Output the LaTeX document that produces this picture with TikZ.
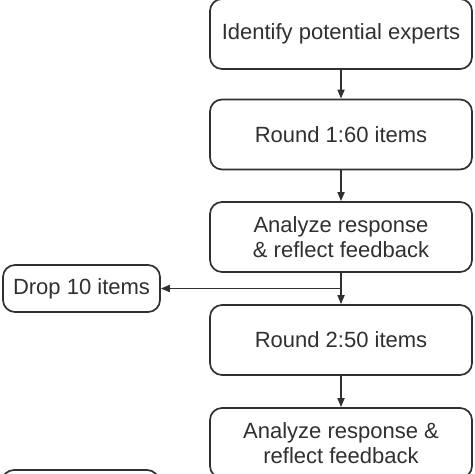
\documentclass[tikz,border=0pt]{standalone}
\usepackage{fontspec}
\setmainfont{Liberation Sans}
\usetikzlibrary{arrows.meta}
\definecolor{linegray}{HTML}{303030}
\begin{document}
\begin{tikzpicture}[x=0.5pt, y=0.5pt, line join=round, >={Triangle[length=4.5pt, width=3.5pt]},
	font=\fontsize{11}{12.5}\selectfont, color=linegray,
	stepbox/.style={draw=linegray, line width=0.85pt, rounded corners=6pt, fill=white,
		align=center, inner sep=0pt, minimum width=131pt, minimum height=35pt},
	sidebox/.style={stepbox, minimum width=78.5pt, minimum height=23.5pt},
	link/.style={->, draw=linegray, line width=0.85pt}]
	\useasboundingbox (0,0) rectangle (474,474);
	
	\node[stepbox] (ident) at (341,440) {Identify potential experts};
	\node[stepbox] (round1) at (341,339.5) {Round 1:60 items};
	\node[stepbox] (analyze1) at (341,237) {Analyze response\\\& reflect feedback};
	\node[sidebox] (drop) at (81.5,185.5) {Drop 10 items};
	\node[stepbox] (round2) at (341,134) {Round 2:50 items};
	\node[stepbox] (analyze2) at (341,31) {Analyze response \&\\reflect feedback};
	\node[sidebox] (next) at (80.5,-19.5) {};
	
	\draw[link] (ident) -- (round1);
	\draw[link] (round1) -- (analyze1);
	\draw[link] (analyze1) -- (round2);
	\coordinate (fork) at (analyze1.south |- drop.east);
	\draw[link] (fork) -- (drop);
	\draw[link] (round2) -- (analyze2);
\end{tikzpicture}
\end{document}
